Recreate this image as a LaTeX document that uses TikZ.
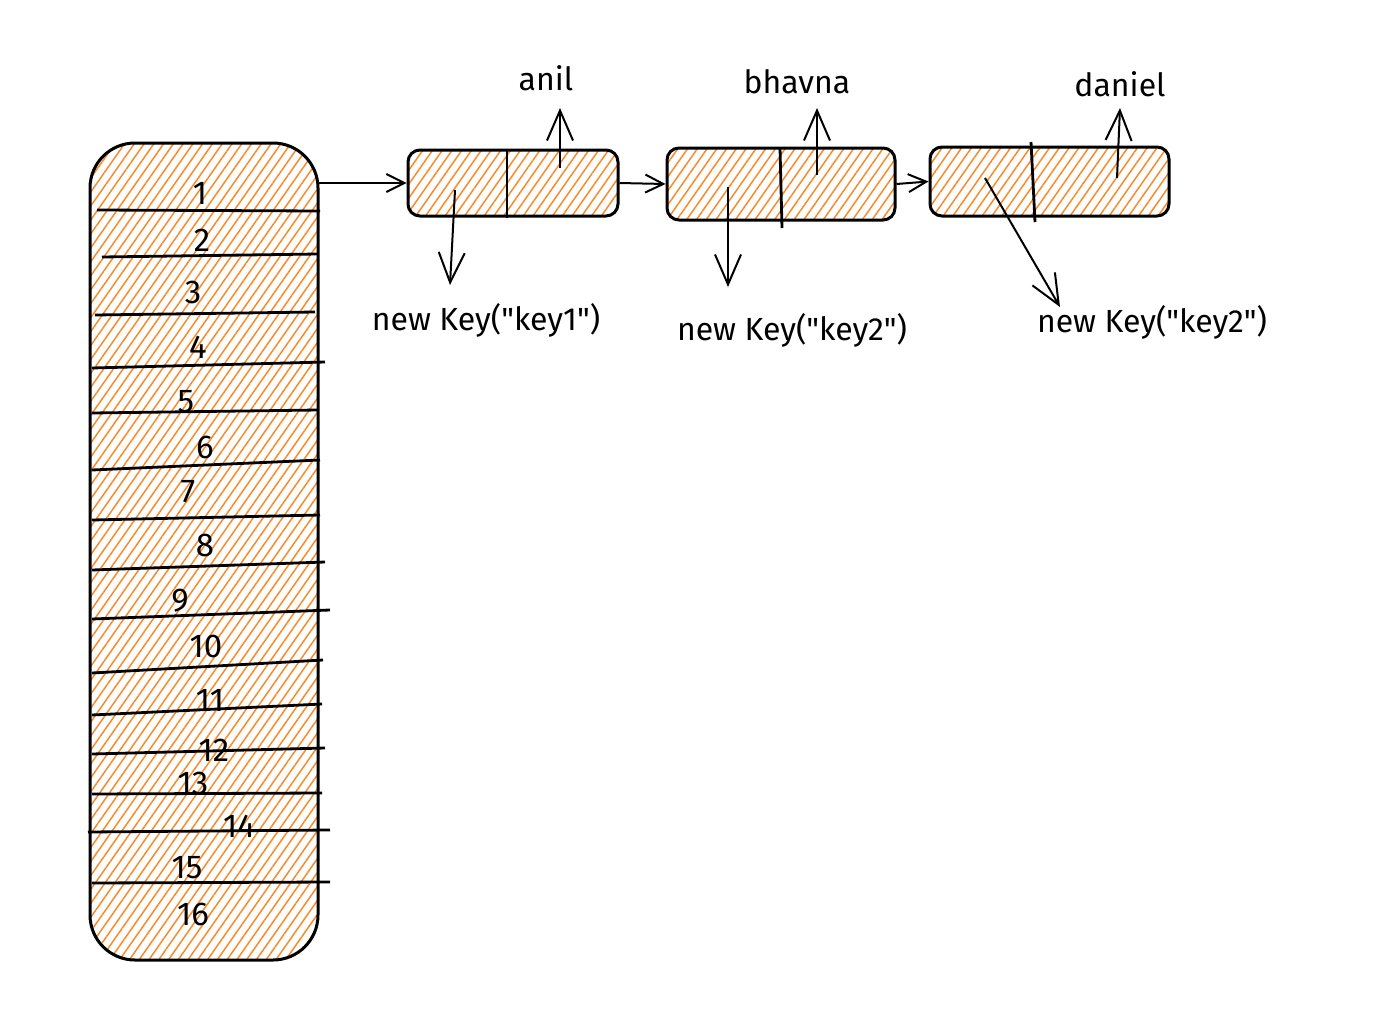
\documentclass[tikz,border=0pt]{standalone}
\usepackage{fontspec}
\setmainfont{Fira Sans}[Ligatures=TeXOff]
\usetikzlibrary{patterns.meta,arrows.meta}
\definecolor{hatch}{HTML}{F98A2A}
\tikzset{
  hatched/.style={draw=black,line width=3pt,
    pattern={Lines[angle=55,distance=8pt,line width=1.5pt]},pattern color=hatch},
  cell/.style={hatched,rounded corners=12pt,inner sep=0pt},
  row/.style={line width=2.8pt,draw=black},
  lbl/.style={font=\fontsize{32}{34}\selectfont,inner sep=0pt},
  num/.style={font=\fontsize{33}{35}\selectfont,inner sep=0pt},
  link/.style={line width=2pt,-{Straight Barb[length=18pt,width=18pt,line width=2pt]}},
  ptr/.style={line width=2pt,-{Straight Barb[length=30pt,width=26pt,line width=2pt]}},
}
\begin{document}
\begin{tikzpicture}[x=1pt,y=-1pt]
\useasboundingbox (0,0) rectangle (1400,1033);
% big table
\node[hatched,rounded corners=45pt,minimum width=228pt,minimum height=817pt,inner sep=0pt] (tab) at (204,551.5) {};
\foreach \xa/\ya/\xb/\yb in {97/210/320/211, 102/257/318/254, 95/315/315/312, 92/368/325/362,
  92/413/318/410, 92/470/320/460, 92/520/320/515, 92/570/325/562, 92/619/330/610,
  92/673/323/660, 92/715/322/704, 92/754/325/748, 92/794/322/793, 88/832/330/830, 92/883/330/882}
  \draw[row] (\xa,\ya) -- (\xb,\yb);
\foreach \n/\x/\y in {1/200/193, 2/202/240, 3/193/292, 4/198/347, 5/186/402, 6/205/447, 7/188/492,
  8/205/545, 9/180/601, 10/206/646, 11/210/700, 12/214/750, 13/193/783, 14/239/826, 15/187/868, 16/193/914}
  \node[num] (n\n) at (\x,\y) {\n};
% linked nodes
\node[cell,minimum width=210pt,minimum height=66pt] (b1) at (513,183) {};
\node[cell,minimum width=228pt,minimum height=72pt] (b2) at (781,184) {};
\node[cell,minimum width=239pt,minimum height=69pt] (b3) at (1049.5,181.5) {};
\draw[row] (507,150) -- (507,218);
\draw[row] (780,148) -- (782,228);
\draw[row] (1031,142) -- (1035,222);
% labels
\node[lbl] (v1) at (546,78) {anil};
\node[lbl] (v2) at (797,82) {bhavna};
\node[lbl] (v3) at (1120,84) {daniel};
\node[lbl] (k1) at (486,320) {new Key("key1")};
\node[lbl] (k2) at (792,330) {new Key("key2")};
\node[lbl] (k3) at (1152,322) {new Key("key2")};
% connectors
\coordinate (t1) at (318,183);
\draw[link] (t1) -- (b1.west);
\draw[link] (b1.east) -- (b2.west);
\draw[link] (b2.east) -- (b3.west);
\coordinate (u1) at (560,168); \coordinate (u1e) at (560,108);
\coordinate (u2) at (817,175); \coordinate (u2e) at (817,108);
\coordinate (u3) at (1117,178); \coordinate (u3e) at (1120,108);
\draw[ptr] (u1) -- (u1e);
\draw[ptr] (u2) -- (u2e);
\draw[ptr] (u3) -- (u3e);
\coordinate (d1) at (455,190); \coordinate (d1e) at (450,285);
\coordinate (d2) at (728,187); \coordinate (d2e) at (728,287);
\coordinate (d3) at (985,178); \coordinate (d3e) at (1060,307);
\draw[ptr] (d1) -- (d1e);
\draw[ptr] (d2) -- (d2e);
\draw[ptr] (d3) -- (d3e);
\end{tikzpicture}
\end{document}
